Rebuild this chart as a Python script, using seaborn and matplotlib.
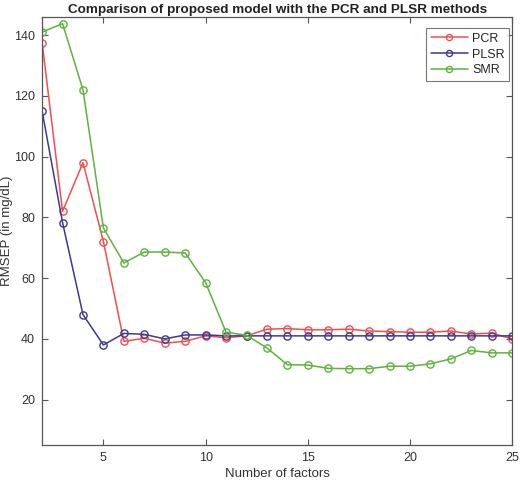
import numpy as np
import pandas as pd
import matplotlib
matplotlib.use("Agg")
import matplotlib.pyplot as plt
import seaborn as sns

# number of factors on the x axis
factors = list(range(2, 26))

pcr = [137.5, 82.0, 98.0, 72.0, 39.2, 40.2, 38.6, 39.2, 41.0, 40.4, 41.0, 43.2,
       43.4, 43.0, 43.0, 43.2, 42.6, 42.4, 42.2, 42.2, 42.6, 41.6, 41.9, 40.0]
plsr = [115.0, 78.3, 48.0, 38.0, 41.8, 41.5, 40.0, 41.3, 41.3, 41.0, 41.0, 41.0,
        41.0, 41.0, 41.0, 41.0, 41.0, 41.0, 41.0, 41.0, 41.0, 41.0, 41.0, 41.0]
smr = [141.0, 143.8, 122.0, 76.5, 65.0, 68.6, 68.6, 68.3, 58.5, 42.2, 41.2, 37.0,
       31.5, 31.4, 30.3, 30.2, 30.2, 31.0, 31.0, 31.8, 33.4, 36.2, 35.4, 35.4]

series = {"PCR": pcr, "PLSR": plsr, "SMR": smr}
colors = {"PCR": "#f44d4d", "PLSR": "#3d3a90", "SMR": "#5cb43a"}

df = pd.DataFrame({
    "factors": factors * 3,
    "rmsep": pcr + plsr + smr,
    "method": ["PCR"] * len(pcr) + ["PLSR"] * len(plsr) + ["SMR"] * len(smr),
})

sns.set_style("white")
plt.rcParams["font.family"] = ["Liberation Sans", "DejaVu Sans"]

fig = plt.figure(figsize=(5.2, 4.98), dpi=100)
ax = fig.add_axes([0.081, 0.106, 0.904, 0.86])

for name in series:
    sub = df[df["method"] == name]
    sns.lineplot(data=sub, x="factors", y="rmsep", ax=ax, color=colors[name],
                 marker="o", markersize=5.2, markerfacecolor="none",
                 markeredgecolor=colors[name], markeredgewidth=1.0,
                 linewidth=1.1, label=name)

ax.set_xlim(2, 25)
ax.set_ylim(5, 146)
ax.set_xticks([5, 10, 15, 20, 25])
ax.set_yticks([20, 40, 60, 80, 100, 120, 140])
ax.tick_params(direction="in", length=4, width=0.8, colors="#555555",
               labelcolor="#333333", labelsize=9, top=True, right=True,
               bottom=True, left=True, pad=5)
for s in ax.spines.values():
    s.set_color("#555555")
    s.set_linewidth(0.9)

ax.set_xlabel("Number of factors", fontsize=9.5, color="#333333", labelpad=3)
ax.set_ylabel("RMSEP (in mg/dL)", fontsize=9.5, color="#333333", labelpad=1)
ax.set_title("Comparison of proposed model with the PCR and PLSR methods",
             fontsize=9.7, fontweight="bold", color="#222222", pad=3)

leg = ax.legend(loc="upper right", fontsize=9, frameon=True, fancybox=False,
                edgecolor="#555555", handlelength=3.0, borderpad=0.35,
                labelspacing=0.3, handletextpad=0.35, borderaxespad=0,
                markerscale=0.85, bbox_to_anchor=(0.994, 0.973))
leg.get_frame().set_linewidth(0.8)

fig.savefig("out.png", dpi=100)
